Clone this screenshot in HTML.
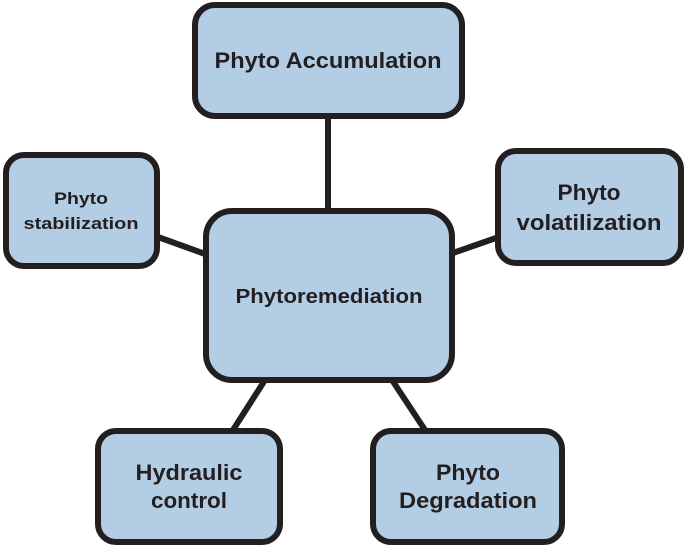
<!DOCTYPE html>
<html><head><style>html,body{margin:0;padding:0;background:#fff}svg{display:block}</style></head><body>
<svg width="685" height="547" viewBox="0 0 685 547" xmlns="http://www.w3.org/2000/svg">
<g stroke="#231f20" stroke-width="6">
<line x1="328" y1="118" x2="328" y2="210"/>
<line x1="158" y1="237" x2="205" y2="254"/>
<line x1="453" y1="253" x2="496" y2="238"/>
<line x1="265" y1="380" x2="233" y2="430"/>
<line x1="392" y1="380" x2="425" y2="430"/>
</g>
<g fill="#b3cde5" stroke="#231f20" stroke-width="6">
<rect x="195" y="5" width="267" height="111" rx="20"/>
<rect x="6" y="155" width="151" height="111" rx="18"/>
<rect x="498" y="151" width="183" height="112" rx="18"/>
<rect x="206" y="211" width="246" height="169" rx="26"/>
<rect x="98" y="431" width="182" height="111" rx="18"/>
<rect x="373" y="431" width="189" height="111" rx="18"/>
</g>
<g font-family="Liberation Sans, sans-serif" font-weight="bold" fill="#231f20" text-anchor="middle" lengthAdjust="spacingAndGlyphs">
<text x="328" y="68" font-size="22" textLength="227" lengthAdjust="spacingAndGlyphs">Phyto Accumulation</text>
<text x="81" y="204" font-size="17" textLength="54" lengthAdjust="spacingAndGlyphs">Phyto</text>
<text x="81" y="229" font-size="17" textLength="115" lengthAdjust="spacingAndGlyphs">stabilization</text>
<text x="589" y="200" font-size="22" textLength="63" lengthAdjust="spacingAndGlyphs">Phyto</text>
<text x="589" y="230" font-size="22" textLength="145" lengthAdjust="spacingAndGlyphs">volatilization</text>
<text x="329" y="303" font-size="20" textLength="187" lengthAdjust="spacingAndGlyphs">Phytoremediation</text>
<text x="189" y="480" font-size="22" textLength="107" lengthAdjust="spacingAndGlyphs">Hydraulic</text>
<text x="189" y="508" font-size="22" textLength="76" lengthAdjust="spacingAndGlyphs">control</text>
<text x="468" y="480" font-size="22" textLength="64" lengthAdjust="spacingAndGlyphs">Phyto</text>
<text x="468" y="508" font-size="22" textLength="138" lengthAdjust="spacingAndGlyphs">Degradation</text>
</g>
</svg>
</body></html>
